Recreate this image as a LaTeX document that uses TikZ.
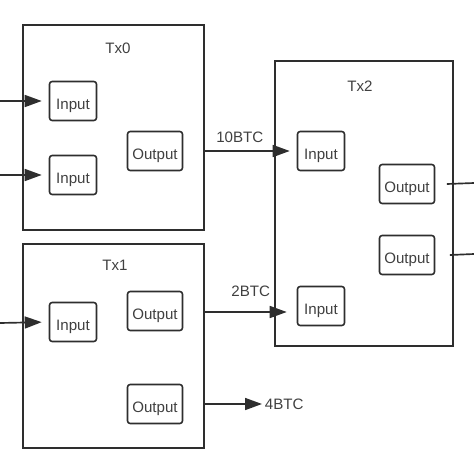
\documentclass[tikz,border=0pt]{standalone}
\usepackage{fontspec}
\setmainfont{Liberation Sans}
\usetikzlibrary{arrows.meta, positioning, calc}
\definecolor{ink}{HTML}{2E2E2E}
\definecolor{txt}{HTML}{404040}
\tikzset{
  txbox/.style={draw=ink, line width=1pt, minimum width=#1},
  slot/.style={draw=ink, line width=0.9pt, rounded corners=1.5pt, minimum height=0.78cm, text=txt, inner sep=0pt,
    text height=9.6pt, text depth=0pt},
  flow/.style={draw=ink, line width=0.95pt},
  lbl/.style={text=txt, font=\fontsize{8.6}{10}\selectfont}
}

\begin{document}
\begin{tikzpicture}[x=0.02cm, y=-0.02cm, -{Triangle[length=0.34cm, width=0.24cm]}, font=\fontsize{8.6}{10}\selectfont]
  \useasboundingbox (0,0) rectangle (474,474);
  % transactions
  \node[txbox=3.62cm, minimum height=4.1cm, -] (tx0) at (113.5,127.5) {};
  \node[txbox=3.62cm, minimum height=4.08cm, -] (tx1) at (113.5,346) {};
  \node[txbox=3.56cm, minimum height=5.7cm, -] (tx2) at (364,203.5) {};
  \node[lbl] (t0) at (118,48) {Tx0};
  \node[lbl] (t1) at (115,265) {Tx1};
  \node[lbl] (t2) at (360,86) {Tx2};
  % inputs and outputs
  \node[slot, minimum width=0.94cm] (in0a) at (73,101) {Input};
  \node[slot, minimum width=0.94cm] (in0b) at (73,175) {Input};
  \node[slot, minimum width=1.1cm] (out0) at (155,151) {Output};
  \node[slot, minimum width=0.94cm] (in1) at (73,322) {Input};
  \node[slot, minimum width=1.1cm] (out1a) at (155,311) {Output};
  \node[slot, minimum width=1.1cm] (out1b) at (155,404) {Output};
  \node[slot, minimum width=0.94cm] (in2a) at (321,151) {Input};
  \node[slot, minimum width=0.94cm] (in2b) at (321,306) {Input};
  \node[slot, minimum width=1.1cm] (out2a) at (407,184) {Output};
  \node[slot, minimum width=1.1cm] (out2b) at (407,255) {Output};
  \node[lbl, anchor=west, inner sep=1.5pt] (b4) at (262,404) {4BTC};
  \coordinate (s0) at (0,101);
  \coordinate (s1) at (0,175);
  \coordinate (s2) at (0,323);
  \coordinate (e0) at (474,183);
  \coordinate (e1) at (474,254);
  % connectors
  \draw[flow, shorten >=0.14cm] (s0) -- (in0a.west);
  \draw[flow, shorten >=0.14cm] (s1) -- (in0b.west);
  \draw[flow, shorten >=0.14cm] (s2) -- (in1.west);
  \draw[flow, shorten >=0.14cm] (out0 -| tx0.east) -- (out0 -| in2a.west)
        node[lbl, pos=0.38, above=1pt] {10BTC};
  \draw[flow, shorten >=0.2cm] ([yshift=-0.02cm]out1a -| tx1.east) -- ([yshift=-0.02cm]out1a -| in2b.west)
        node[lbl, midway, above=5pt] {2BTC};
  \draw[flow] (out1b -| tx1.east) -- (b4.west);
  \draw[flow, -] ([xshift=-0.14cm]out2a -| tx2.east) -- (e0);
  \draw[flow, -] ([xshift=-0.08cm]out2b -| tx2.east) -- (e1);
\end{tikzpicture}
\end{document}
